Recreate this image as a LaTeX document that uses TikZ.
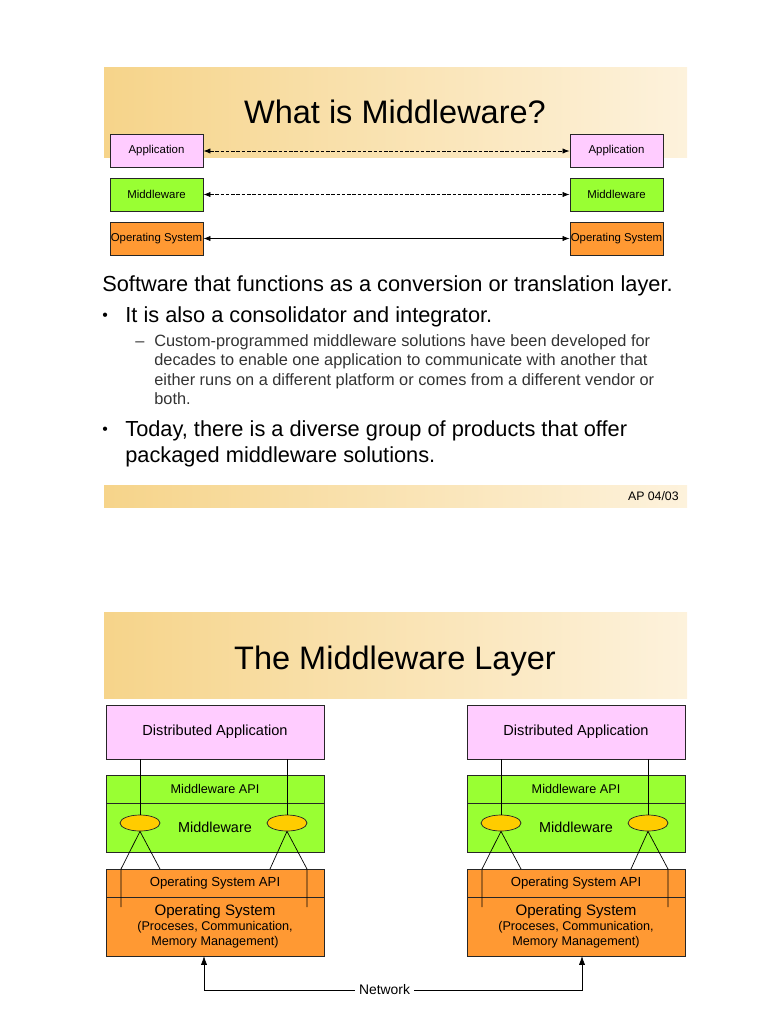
\documentclass[tikz,border=0pt]{standalone}
\usepackage{fontspec}
\setmainfont{Liberation Sans}
\usetikzlibrary{positioning}
\usetikzlibrary{shapes.geometric}
\usetikzlibrary{arrows.meta}

\definecolor{appcolor}{RGB}{255,204,255}
\definecolor{mwcolor}{RGB}{153,255,51}
\definecolor{oscolor}{RGB}{255,153,51}
\definecolor{elcolor}{RGB}{255,204,0}
\definecolor{bannerL}{RGB}{246,212,138}
\definecolor{bannerR}{RGB}{253,242,220}

\begin{document}
\begin{tikzpicture}[x=0.02cm,y=-0.02cm,
    every node/.style={inner sep=0pt},
    banner/.style={left color=bannerL,right color=bannerR},
    small/.style={draw=black!85,line width=0.5pt,minimum width=1.86cm,minimum height=0.66cm,font=\fontsize{6.5pt}{7pt}\selectfont},
    wide/.style={draw=black!85,line width=0.5pt,minimum width=4.36cm},
    tip/.style={{Latex[length=4pt,width=3pt]}-{Latex[length=4pt,width=3pt]}},
    uptip/.style={-{Latex[length=5pt,width=3.5pt]}},
    body/.style={anchor=base west,font=\fontsize{12.4pt}{14.7pt}\selectfont},
    dot/.style={anchor=base west,font=\fontsize{9pt}{10pt}\selectfont},
    sub/.style={anchor=base west,text=black!80,font=\fontsize{9.3pt}{11pt}\selectfont}]
        \useasboundingbox (0,0) rectangle (768,1024);

        % first slide
        \fill[banner] (104,68) rectangle (687,157);
        \node[anchor=base,font=\fontsize{18.5pt}{20pt}\selectfont] (title1) at (395,124) {What is Middleware?};

        \node[small,fill=appcolor] (appL) at (156.5,151) {Application};
        \node[small,fill=appcolor] (appR) at (616.5,151) {Application};
        \node[small,fill=mwcolor] (mwL) at (156.5,194.5) {Middleware};
        \node[small,fill=mwcolor] (mwR) at (616.5,194.5) {Middleware};
        \node[small,fill=oscolor] (osL) at (156.5,238.5) {Operating System};
        \node[small,fill=oscolor] (osR) at (616.5,238.5) {Operating System};

        \draw[tip,dashed,dash pattern=on 2pt off 1pt] (appL) -- (appR);
        \draw[tip,dashed,dash pattern=on 2pt off 1pt] (mwL) -- (mwR);
        \draw[tip] (osL) -- (osR);

        \node[body] (intro) at (102,291) {Software that functions as a conversion or translation layer.};
        \node[dot] (dot1) at (102,320) {\textbullet};
        \node[body] (item1) at (125,322) {It is also a consolidator and integrator.};
        \node[sub] (dash1) at (135,346) {–};
        \node[sub] (sub1) at (154,346) {Custom-programmed middleware solutions have been developed for};
        \node[sub] (sub2) at (154,365.5) {decades to enable one application to communicate with another that};
        \node[sub] (sub3) at (154,385) {either runs on a different platform or comes from a different vendor or};
        \node[sub] (sub4) at (154,404.5) {both.};
        \node[dot] (dot2) at (102,434) {\textbullet};
        \node[body] (item2) at (125,436) {Today, there is a diverse group of products that offer};
        \node[body] (item2b) at (125,462) {packaged middleware solutions.};

        \fill[banner] (104,485) rectangle (687,507);
        \node[anchor=east,font=\fontsize{7pt}{8pt}\selectfont] (foot) at (679,496) {AP 04/03};

        % second slide
        \fill[banner] (104,612) rectangle (687,698);
        \node[anchor=base,font=\fontsize{18.5pt}{20pt}\selectfont] (title2) at (395,669) {The Middleware Layer};

        % left stack
        \node[wide,fill=appcolor,minimum height=1.08cm,font=\fontsize{8.3pt}{9pt}\selectfont] (dist1) at (215,732) {Distributed Application};
        \node[wide,fill=mwcolor,minimum height=0.56cm,font=\fontsize{7.2pt}{8pt}\selectfont] (mwapi1) at (215,789) {Middleware API};
        \node[wide,fill=mwcolor,minimum height=0.98cm,font=\fontsize{8.2pt}{9pt}\selectfont] (mw1) at (215,827.5) {Middleware};
        \node[wide,fill=oscolor,minimum height=0.56cm,font=\fontsize{7.5pt}{8pt}\selectfont] (osapi1) at (215,883) {Operating System API};
        \node[wide,fill=oscolor,minimum height=1.18cm,align=center,font=\fontsize{7.2pt}{8.5pt}\selectfont] (os1) at (215,926.5)
            {{\fontsize{8.6pt}{9.6pt}\selectfont Operating System}\\(Proceses, Communication,\\Memory Management)};

        \coordinate (leg1a) at (121,869);
        \coordinate (leg1b) at (160,869);
        \coordinate (leg1c) at (270,869);
        \coordinate (leg1d) at (307,869);
        \coordinate (foot1a) at (121,907);
        \coordinate (foot1d) at (307,907);
        \node[ellipse,draw=black!85,fill=elcolor,minimum width=0.8cm,minimum height=0.32cm] (el1a) at (140,823) {};
        \node[ellipse,draw=black!85,fill=elcolor,minimum width=0.8cm,minimum height=0.32cm] (el1b) at (287,823) {};
        \draw (dist1.south -| el1a) -- (el1a.north);
        \draw (dist1.south -| el1b) -- (el1b.north);
        \draw (el1a.south) -- (leg1a) -- (foot1a);
        \draw (el1a.south) -- (leg1b);
        \draw (el1b.south) -- (leg1c);
        \draw (el1b.south) -- (leg1d) -- (foot1d);

        % right stack
        \node[wide,fill=appcolor,minimum height=1.08cm,font=\fontsize{8.3pt}{9pt}\selectfont] (dist2) at (576,732) {Distributed Application};
        \node[wide,fill=mwcolor,minimum height=0.56cm,font=\fontsize{7.2pt}{8pt}\selectfont] (mwapi2) at (576,789) {Middleware API};
        \node[wide,fill=mwcolor,minimum height=0.98cm,font=\fontsize{8.2pt}{9pt}\selectfont] (mw2) at (576,827.5) {Middleware};
        \node[wide,fill=oscolor,minimum height=0.56cm,font=\fontsize{7.5pt}{8pt}\selectfont] (osapi2) at (576,883) {Operating System API};
        \node[wide,fill=oscolor,minimum height=1.18cm,align=center,font=\fontsize{7.2pt}{8.5pt}\selectfont] (os2) at (576,926.5)
            {{\fontsize{8.6pt}{9.6pt}\selectfont Operating System}\\(Proceses, Communication,\\Memory Management)};

        \coordinate (leg2a) at (482,869);
        \coordinate (leg2b) at (521,869);
        \coordinate (leg2c) at (631,869);
        \coordinate (leg2d) at (668,869);
        \coordinate (foot2a) at (482,907);
        \coordinate (foot2d) at (668,907);
        \node[ellipse,draw=black!85,fill=elcolor,minimum width=0.8cm,minimum height=0.32cm] (el2a) at (501,823) {};
        \node[ellipse,draw=black!85,fill=elcolor,minimum width=0.8cm,minimum height=0.32cm] (el2b) at (648,823) {};
        \draw (dist2.south -| el2a) -- (el2a.north);
        \draw (dist2.south -| el2b) -- (el2b.north);
        \draw (el2a.south) -- (leg2a) -- (foot2a);
        \draw (el2a.south) -- (leg2b);
        \draw (el2b.south) -- (leg2c);
        \draw (el2b.south) -- (leg2d) -- (foot2d);

        % network
        \node[inner xsep=2.3pt,font=\fontsize{7.9pt}{9pt}\selectfont] (net) at (384.5,990) {Network};
        \coordinate (in1) at (204,956);
        \coordinate (in2) at (582,956);
        \draw[uptip] (net.west) -| (in1);
        \draw[uptip] (net.east) -| (in2);
      \end{tikzpicture}
\end{document}
